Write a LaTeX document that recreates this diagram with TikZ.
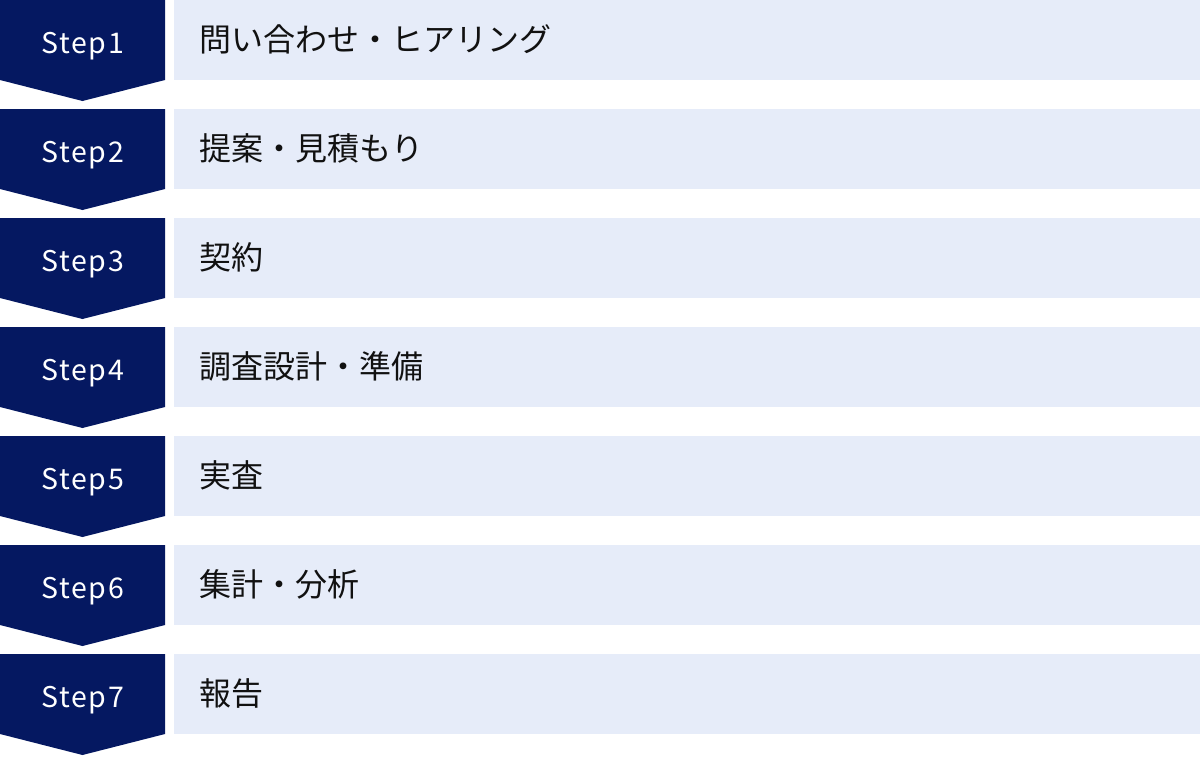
\documentclass[tikz,border=0pt]{standalone}
\usepackage{fontspec}
\setmainfont{Noto Sans CJK JP}
\newfontfamily\stepfont[LetterSpace=6]{Noto Sans CJK JP}
\definecolor{navy}{HTML}{051861}
\definecolor{paleblue}{HTML}{E6ECF9}
\definecolor{ink}{HTML}{111111}
\begin{document}
\begin{tikzpicture}[x=1pt,y=-1pt,
  arrowshape/.style={fill=navy},
  barbox/.style={fill=paleblue,draw=none,minimum width=1026pt,minimum height=80pt,anchor=north west,inner sep=0pt},
  steplabel/.style={text=white,font=\stepfont\fontsize{28.5}{28.5}\selectfont,inner sep=0pt,anchor=base},
  tasklabel/.style={text=ink,font=\fontsize{32}{32}\selectfont,inner sep=0pt,anchor=base west}]
\useasboundingbox (0,0) rectangle (1200,756);
\foreach \i/\txt in {1/問い合わせ・ヒアリング,2/提案・見積もり,3/契約,4/調査設計・準備,5/実査,6/集計・分析,7/報告}{
  \pgfmathsetmacro{\t}{109*(\i-1)}
  \fill[arrowshape] (0,\t) -- (165,\t) -- (165,{\t+80}) -- (82.5,{\t+101}) -- (0,{\t+80}) -- cycle;
  \node[steplabel] (s\i) at (82.5,{\t+53}) {Step\i};
  \node[barbox] (b\i) at (174,\t) {};
  \node[tasklabel] (t\i) at (199,{\t+51}) {\txt};
}
\end{tikzpicture}
\end{document}
